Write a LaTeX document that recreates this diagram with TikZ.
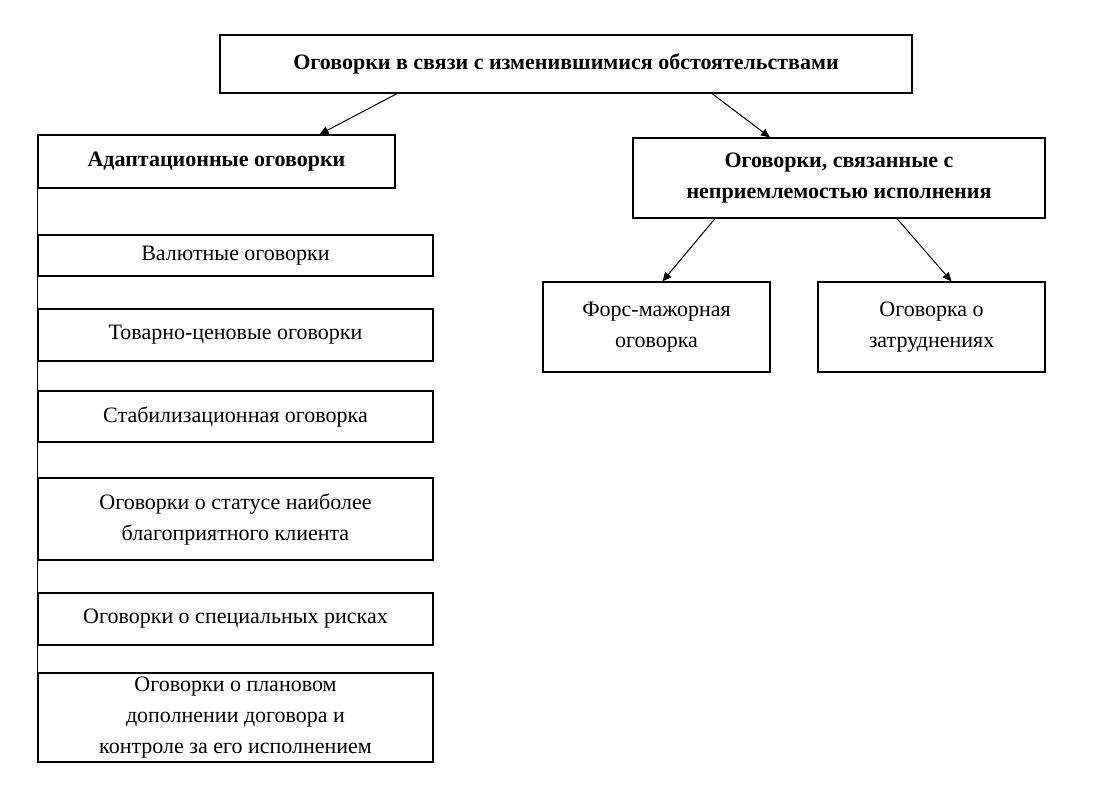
\documentclass[tikz,border=0pt]{standalone}
\usepackage{fontspec}
\setmainfont{Liberation Serif}
\usetikzlibrary{arrows.meta}
\tikzset{
    box/.style={draw, line width=1.2pt, align=center, inner sep=0pt, font=\fontsize{22}{31}\selectfont},
    bbox/.style={box, font=\fontsize{22}{31}\selectfont\bfseries},
    arr/.style={-{Triangle[length=9pt, width=8pt]}, line width=1pt}
}
\begin{document}
\begin{tikzpicture}[x=1pt, y=-1pt]
    \useasboundingbox (0,0) rectangle (1093,796);
    % top
    \node[bbox, minimum width=692pt, minimum height=58pt] (top) at (566,64) {Оговорки в связи с изменившимися обстоятельствами};
    \node[bbox, minimum width=357pt, minimum height=53pt] (adapt) at (216.5,161.5) {Адаптационные оговорки};
    \node[bbox, minimum width=412pt, minimum height=80pt] (impos) at (839,178) {Оговорки, связанные с\\неприемлемостью исполнения};
    % right branch
    \node[box, minimum width=227pt, minimum height=90pt] (force) at (656.5,327) {Форс-мажорная\\оговорка};
    \node[box, minimum width=227pt, minimum height=90pt] (hard) at (931.5,327) {Оговорка о\\затруднениях};
    % left list
    \node[box, minimum width=395pt, minimum height=41pt] (l1) at (235.5,255.5) {Валютные оговорки};
    \node[box, minimum width=395pt, minimum height=52pt] (l2) at (235.5,335) {Товарно-ценовые оговорки};
    \node[box, minimum width=395pt, minimum height=51pt] (l3) at (235.5,416.5) {Стабилизационная оговорка};
    \node[box, minimum width=395pt, minimum height=82pt] (l4) at (235.5,519) {Оговорки о статусе наиболее\\благоприятного клиента};
    \node[box, minimum width=395pt, minimum height=89pt] (l6) at (235.5,717.5) {Оговорки о плановом\\дополнении договора и\\контроле за его исполнением};
    \node[box, minimum width=395pt, minimum height=52pt] (l5) at (235.5,619) {Оговорки о специальных рисках};
    \draw[line width=1.2pt] (adapt.south west) -- (l6.south west);
    % arrows
    \draw[arr] ([xshift=-169pt]top.south) -- ([xshift=103pt]adapt.north);
    \draw[arr] ([xshift=146pt]top.south) -- ([xshift=-69pt]impos.north);
    \draw[arr] ([xshift=-124pt]impos.south) -- ([xshift=6pt]force.north);
    \draw[arr] ([xshift=58pt]impos.south) -- ([xshift=20pt]hard.north);
\end{tikzpicture}
\end{document}
